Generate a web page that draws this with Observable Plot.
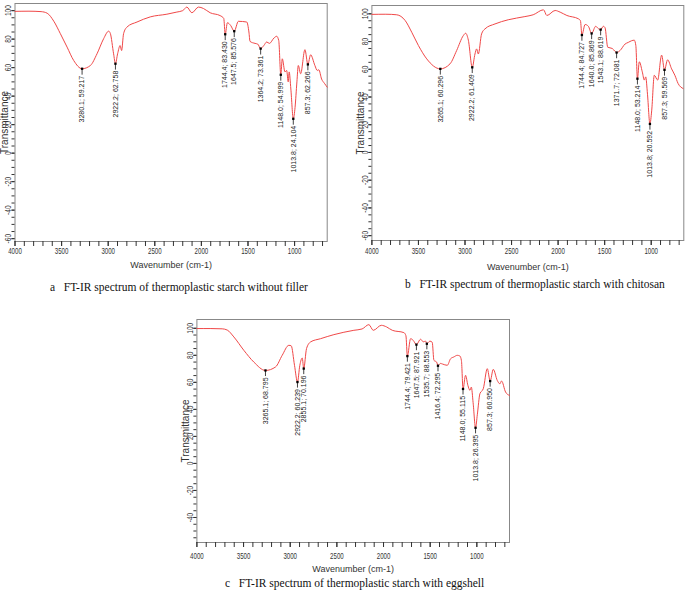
<!DOCTYPE html>
<html><head><meta charset="utf-8">
<script src="https://cdn.jsdelivr.net/npm/d3@7"></script>
<script src="https://cdn.jsdelivr.net/npm/@observablehq/plot@0.6"></script>
<style>
body{margin:0;background:#fff;}
#wrap{position:relative;width:685px;height:590px;overflow:hidden;background:#fff;}
.panel{position:absolute;}
.cap{position:absolute;font-family:"Liberation Serif","Times New Roman",serif;font-size:11.5px;color:#111;white-space:nowrap;line-height:14px;}
</style></head><body><div id="wrap"></div>
<script>
// ---- shared axis data ----
const xDomain = [4000, 650];
const xLabelTicks = [4000, 3500, 3000, 2500, 2000, 1500, 1000];
const yLabelTicks = [100, 80, 60, 40, 20, 0, -20, -40, -60];

// ---- (a) thermoplastic starch without filler ----
const wnA = [4000,3850,3720,3655,3584,3513,3441,3370,3280.1,3191,3120,3049,2995,2977,2942,2922.2,2899,2872,2856,2835,2798,2691,2549,2370,2263,2200,2156,2102,2031,1978,1906,1799,1760,1744.4,1721,1685,1647.5,1603,1513,1490,1478,1424,1395,1364.2,1330,1299,1270,1221,1192,1170,1148,1132,1103,1085,1068,1058,1040,1013.8,995,975,960,935,889,857.3,828,782,757,740,710,680,650];
const tA  = [99.5,99.6,99.3,98.2,92.6,83.8,74.4,65,59.217,61.5,69.7,80.3,85.6,84,69.7,62.758,69.7,75.5,72,83.8,88.5,92,95.6,97.5,99,100,102.5,98.5,102.5,101.5,98.5,96.5,94.5,83.430,91.5,89.5,85.576,92.5,92,85,78.4,77,76.5,73.361,75.5,78,77,80.8,82,79,54.999,66.2,57,58,50,57,45,24.104,32,50,61.5,55.7,72.6,62.266,69,61.5,58,58.5,52,49,46.3];
const peakWnA = [3280.1, 2922.2, 1744.4, 1647.5, 1364.2, 1148.0, 1013.8, 857.3];
const peakTA  = [59.217, 62.758, 83.430, 85.576, 73.361, 54.999, 24.104, 62.266];

// ---- (b) with chitosan ----
const wnB = [4000,3850,3733,3643,3572,3500,3411,3265.1,3161,3090,3018,2993,2964,2922.2,2893,2875,2857,2822,2786,2678,2536,2357,2268,2157,2121,2032,1978,1906,1782,1760,1744.4,1710,1675,1640.0,1596,1568,1543.1,1514,1496,1467,1418,1390,1371.7,1335,1281,1246,1210,1182,1165,1148.0,1128,1096,1074,1059,1040,1013.8,995,967,931,888,857.3,824,781,746,711,657];
const tB  = [99.6,99.7,99.3,95.2,86.7,77.1,67.5,60.296,63.9,73.5,84.3,86,81,61.409,71,74.7,71,85.5,89.1,92.7,95.7,98,99.3,102.9,98.8,102.4,101.2,98.8,96.4,95,84.727,92.3,91,85.869,91,89.3,88.619,91,90,75.9,75,73,72.081,73.5,78.2,79.4,80.6,81,77,53.214,65.4,58.2,52.2,54.5,42,20.592,30,55.7,52.2,70.2,59.569,66.8,60.3,55.7,49.7,46.1];
const peakWnB = [3265.1, 2922.2, 1744.4, 1640.0, 1543.1, 1371.7, 1148.0, 1013.8, 857.3];
const peakTB  = [60.296, 61.409, 84.727, 85.869, 88.619, 72.081, 53.214, 20.592, 59.569];

// ---- (c) with eggshell ----
const wnC = [4000,3850,3729,3675,3604,3497,3390,3265.1,3157,3086,3015,2989,2954,2922.2,2897,2871,2855.1,2825,2782,2675,2532,2318,2230,2157,2110,2024,1967,1906,1782,1760,1744.4,1710,1681,1647.5,1603,1574,1549,1535.7,1503,1478,1460,1431,1416.4,1390,1370,1317,1281,1246,1210,1182,1165,1148.0,1121,1096,1074,1059,1040,1013.8,995,967,931,888,857.3,824,781,753,735,692,650];
const tC  = [99.8,99.8,99.6,98.7,93.6,83.7,75,68.795,71.4,80,87.4,87,72.6,60.239,72.6,78,70.196,85,89.9,92.3,95.3,98.5,99.5,102.7,98.5,102.2,101,98.5,96.8,94.5,79.421,92.3,91,87.921,91.9,90,90.5,88.553,90.5,89.6,76.3,75,72.295,74,73.6,72.6,77.5,78.8,80,79.5,76,55.115,65.2,57.8,54.1,56.5,45,26.395,36,51.6,55.3,70.1,60.950,69.6,61.4,58.9,61,52.8,50.3];
const peakWnC = [3265.1, 2922.2, 2855.1, 1744.4, 1647.5, 1535.7, 1416.4, 1148.0, 1013.8, 857.3];
const peakTC  = [68.795, 60.239, 70.196, 79.421, 87.921, 88.553, 72.295, 55.115, 26.395, 60.950];

const captions = [
  "a\u00a0\u00a0\u00a0FT-IR spectrum of thermoplastic starch without filler",
  "b\u00a0\u00a0\u00a0FT-IR spectrum of thermoplastic starch with chitosan",
  "c\u00a0\u00a0\u00a0FT-IR spectrum of thermoplastic starch with eggshell"
];

const SANS = "'Liberation Sans',Arial,sans-serif";

function panel(o) {
  const data = o.wn.map((w, i) => ({w, t: o.t[i]}));
  const peaks = o.pkWn.map((w, i) => ({w, t: o.pkT[i], label: `${w.toFixed(1)}; ${o.pkT[i].toFixed(3)}`}));
  const [y0, y1] = o.yDomain;
  const yMinor = d3.range(-60, 101, 5).filter(v => v >= y0 && v <= y1);
  const yMajor = yLabelTicks.filter(v => v >= y0 && v <= y1);
  const xMinor = d3.range(4000, 649, -100);
  const svg = Plot.plot({
    width: o.width, height: o.height,
    marginLeft: o.ml, marginRight: o.mr, marginTop: o.mt, marginBottom: o.mb,
    style: {background: "transparent", overflow: "visible", fontFamily: SANS, fontSize: "9px", color: "#333"},
    x: {domain: xDomain, label: null},
    y: {domain: o.yDomain, label: null},
    marks: [
      Plot.frame({stroke: "#888", strokeWidth: 1}),
      Plot.axisX({ticks: xMinor, tickSize: 5, tickFormat: () => "", stroke: "#333"}),
      Plot.axisX({ticks: xLabelTicks, tickSize: 5, tickPadding: o.xPad, tickFormat: d => String(d), stroke: "#333", fill: "#333"}),
      Plot.axisY({ticks: yMinor, tickSize: 3, tickFormat: () => "", stroke: "#333"}),
      Plot.axisY({ticks: yMajor, tickSize: 3, tickPadding: 1, tickRotate: -90, tickFormat: d => String(d), stroke: "#333", fill: "#333"}),
      Plot.text(["Transmittance"], {frameAnchor: "left", rotate: -90, textAnchor: "middle", lineAnchor: "middle", dx: o.tDx, fontSize: 10, fill: "#333"}),
      Plot.text(["Wavenumber (cm-1)"], {frameAnchor: "bottom", textAnchor: "middle", lineAnchor: "middle", dy: o.wDy, fontSize: 9, fill: "#333", ariaLabel: "xlabel"}),
      Plot.line(data, {x: "w", y: "t", stroke: "#f04848", strokeWidth: 1, curve: "monotone-x"}),
      Plot.ruleX(peaks, {x: "w", y1: "t", y2: d => d.t - 4.5, stroke: "#111", strokeWidth: 0.8}),
      Plot.dot(peaks, {x: "w", y: "t", symbol: "square", r: 1.3, fill: "#000", stroke: null}),
      Plot.text(peaks, {x: "w", y: "t", text: "label", rotate: -90, textAnchor: "end", dy: 7, fontSize: 7, fill: "#222", ariaLabel: "peak-label"})
    ]
  });
  d3.select(svg).selectAll('g[aria-label="peak-label"] text').style("letter-spacing", "1.3px");
  return svg;
}

function condense(svg, selector, factor) {
  svg.querySelectorAll(selector).forEach(t => {
    const L = t.getComputedTextLength();
    if (L > 0) {
      t.setAttribute("textLength", (L * factor).toFixed(2));
      t.setAttribute("lengthAdjust", "spacingAndGlyphs");
    }
  });
}

const wrap = document.getElementById("wrap");
function place(svg, left, top) {
  const d = document.createElement("div");
  d.className = "panel";
  d.style.left = left + "px"; d.style.top = top + "px";
  d.appendChild(svg);
  wrap.appendChild(d);
  condense(svg, 'g[aria-label="x-axis tick label"] text', 0.68);
  condense(svg, 'g[aria-label="y-axis tick label"] text', 0.73);
  condense(svg, 'g[aria-label="xlabel"] text', 0.67);
}
function caption(text, left, top) {
  const d = document.createElement("div");
  d.className = "cap";
  d.style.left = left + "px"; d.style.top = top + "px";
  d.textContent = text;
  wrap.appendChild(d);
}

place(panel({wn: wnA, t: tA, pkWn: peakWnA, pkT: peakTA, width: 340, height: 278, ml: 14.5, mr: 13.3, mt: 3, mb: 37, yDomain: [-62, 105], xPad: 1.5, tDx: -10, wDy: 24}), 0, 0);
place(panel({wn: wnB, t: tB, pkWn: peakWnB, pkT: peakTB, width: 345, height: 278, ml: 31.4, mr: 1.7, mt: 5, mb: 38, yDomain: [-63.5, 106], xPad: 2.5, tDx: -11.5, wDy: 26.5}), 340, 0);
place(panel({wn: wnC, t: tC, pkWn: peakWnC, pkT: peakTC, width: 350, height: 278, ml: 26.4, mr: 11, mt: 19, mb: 36, yDomain: [-58.5, 106.5], xPad: 5, tDx: -11, wDy: 26.5}), 170, 300);

caption(captions[0], 50, 280);
caption(captions[1], 405, 277);
caption(captions[2], 225, 576);
</script>
</body></html>
